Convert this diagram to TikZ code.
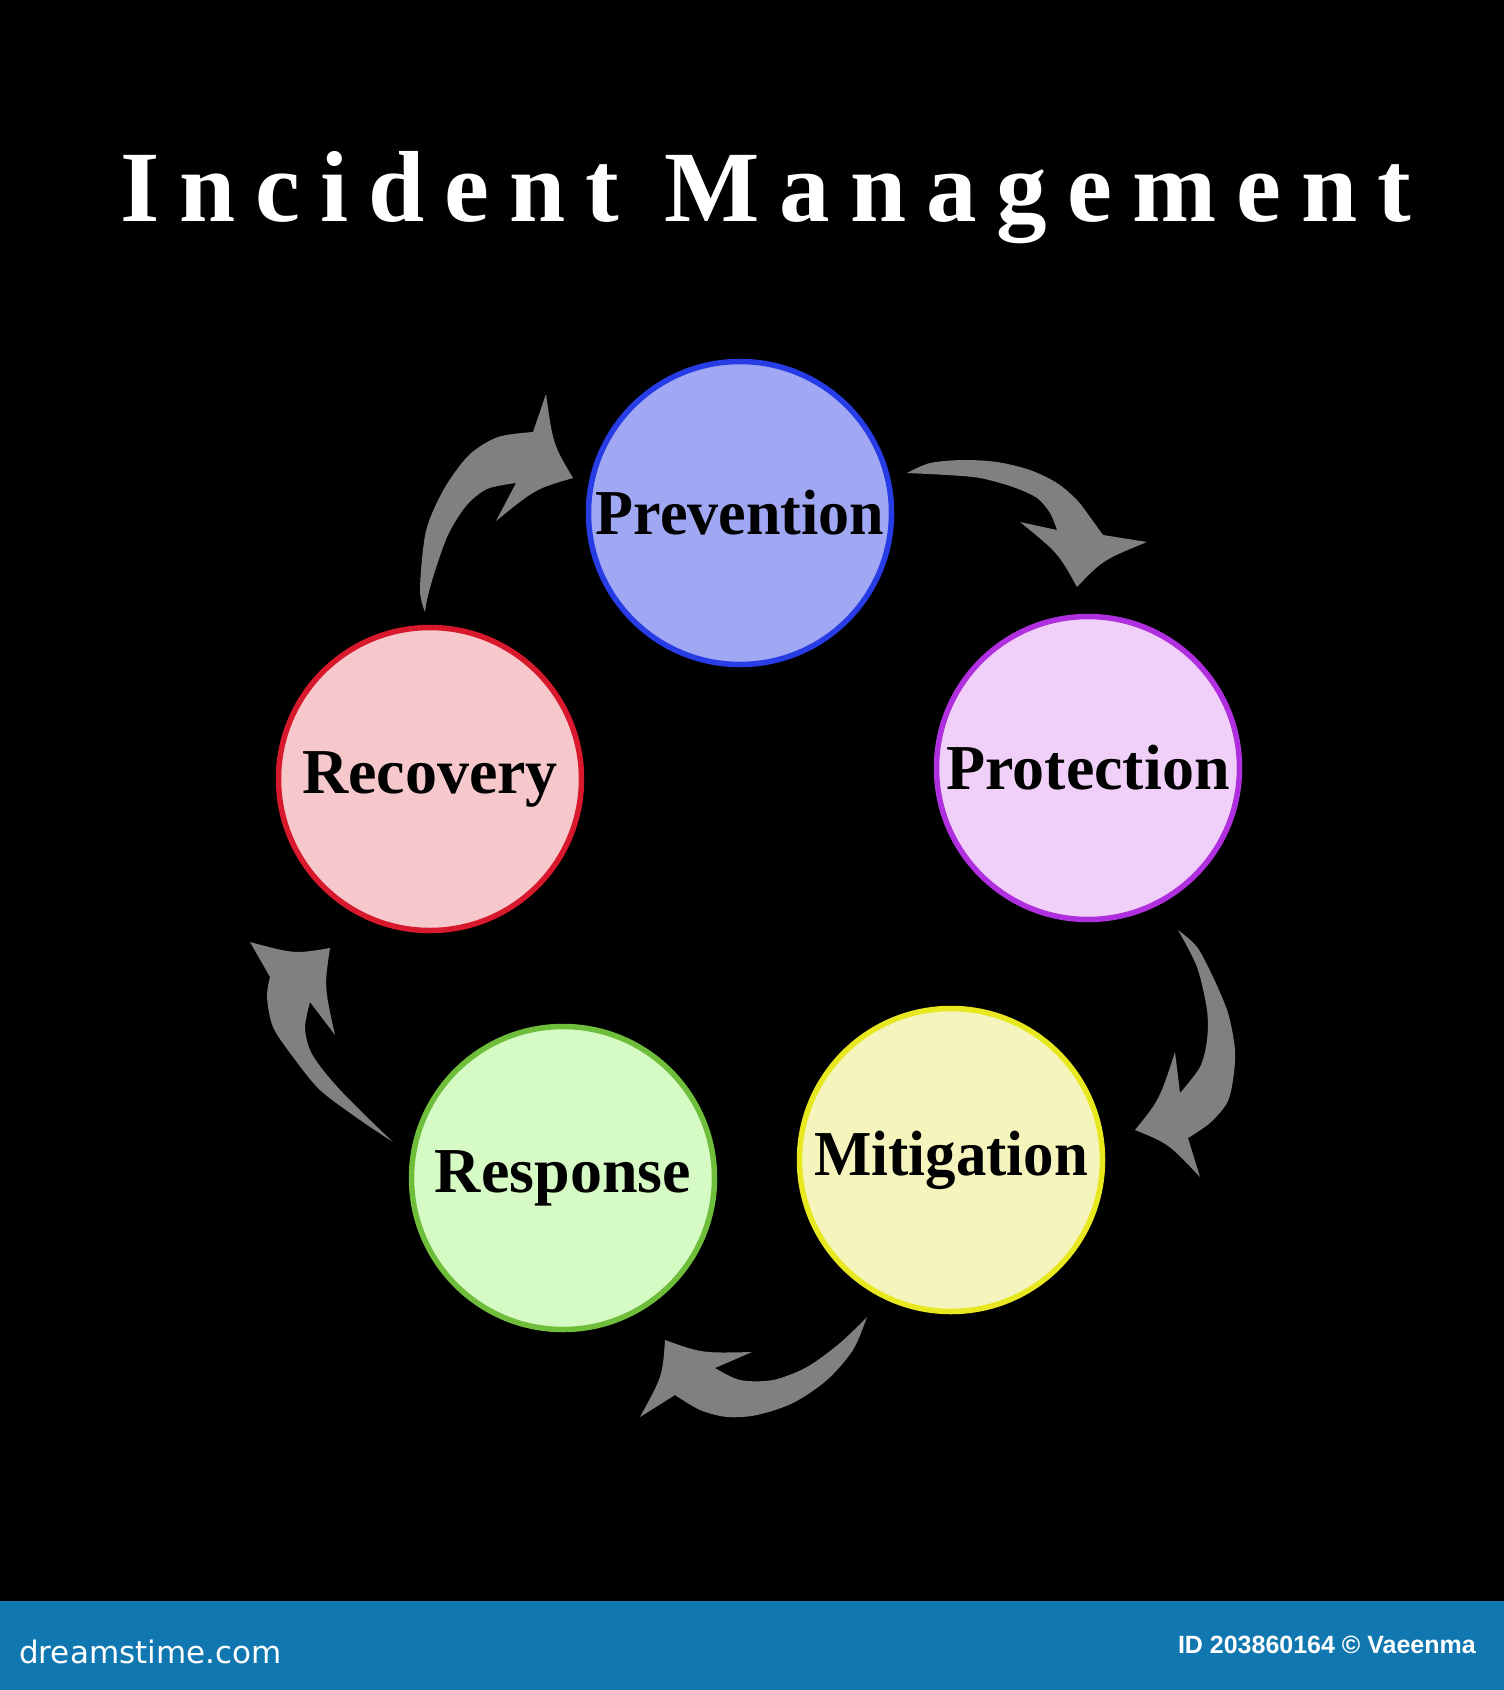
\documentclass[tikz,border=0pt]{standalone}
\usepackage{graphicx}
\usepackage{fontspec}
\setmainfont{Liberation Serif}
\newfontfamily\barfont{Liberation Sans}
\newfontfamily\logofont{DejaVu Sans}
\usetikzlibrary{calc}
\definecolor{prevF}{HTML}{A0A8F4}
\definecolor{prevB}{HTML}{283CE6}
\definecolor{protF}{HTML}{F0D0F8}
\definecolor{protB}{HTML}{B030E0}
\definecolor{recF}{HTML}{F6C8CC}
\definecolor{recB}{HTML}{D8182C}
\definecolor{respF}{HTML}{D6FAC4}
\definecolor{respB}{HTML}{6EBE3C}
\definecolor{mitF}{HTML}{F4F4BC}
\definecolor{mitB}{HTML}{E8E820}
\definecolor{arrowgray}{HTML}{808080}
\definecolor{barblue}{HTML}{1077B0}
% #1 outer edge, #2 barb 1, #3 tip, #4 barb 2, #5 inner corner, #6 inner edge, #7 head centre
\newcommand{\garrow}[7]{%
  \fill[arrowgray] plot[smooth] coordinates {#1} -- #2
    .. controls ($#2!0.5!#3!0.3!#7$) .. #3
    .. controls ($#3!0.5!#4!0.3!#7$) .. #4
    -- plot[smooth] coordinates {#5 #6} -- cycle;}
\begin{document}
\begin{tikzpicture}[x=1pt,y=-1pt,
  stage/.style={circle, minimum size=303pt, line width=5.5pt, inner sep=0pt,
    font=\fontsize{64}{70}\selectfont\bfseries, text=black}]
\useasboundingbox (0,0) rectangle (1504,1690);
\fill[black] (0,0) rectangle (1504,1601);
\fill[barblue] (0,1601) rectangle (1504,1690);

\node[anchor=base west, text=white, inner sep=0pt] (title) at (120,221)
  {\fontsize{101}{120}\selectfont\bfseries\addfontfeature{LetterSpace=19.8}Incident Management};

\node[stage, draw=prevB, fill=prevF] (prev) at (740,513) {\scalebox{0.97}[1]{Prevention}};
\node[stage, draw=protB, fill=protF] (prot) at (1088,768) {Protection};
\node[stage, draw=mitB, fill=mitF] (mit) at (951,1160) {\scalebox{0.95}[1]{Mitigation}};
\node[stage, draw=respB, fill=respF] (resp) at (563,1178) {Response};
\node[stage, draw=recB, fill=recF] (rec) at (430,779) {Recovery};

% Recovery -> Prevention
\garrow{(425,612) (420,589) (426,531) (444,489) (469,455) (498,437) (533,432)}
  {(546,394)}{(573,478)}{(496,521)}{(516,483)}
  {(487,489) (466,506) (448,535) (434,574) (427,600) (425,612)}{(538,464)}
% Prevention -> Protection
\garrow{(907,473) (930,463) (963,460) (997,462) (1030,470) (1057,483) (1077,500) (1090,517) (1103,535)}
  {(1147,542)}{(1077,587)}{(1020,522)}{(1057,530)}
  {(1050,513) (1037,498) (1013,487) (980,478) (947,475) (907,473)}{(1081,550)}
% Protection -> Mitigation
\garrow{(1178,930) (1197,947) (1213,977) (1228,1013) (1235,1050) (1233,1080) (1227,1103) (1210,1123) (1188,1138)}
  {(1200,1177)}{(1135,1130)}{(1175,1052)}{(1180,1093)}
  {(1200,1067) (1207,1040) (1207,1010) (1197,967) (1178,930)}{(1170,1120)}
% Mitigation -> Response
\garrow{(867,1317) (853,1350) (827,1380) (793,1403) (757,1415) (727,1417) (700,1410) (675,1395)}
  {(640,1417)}{(665,1340)}{(752,1352)}{(715,1368)}
  {(740,1380) (773,1380) (807,1367) (840,1343) (867,1317)}{(686,1370)}
% Response -> Recovery
\garrow{(393,1142) (360,1120) (320,1090) (293,1057) (273,1027) (267,997) (270,977)}
  {(250,942)}{(330,948)}{(335,1035)}{(310,1002)}
  {(305,1027) (310,1050) (323,1070) (343,1093) (370,1120) (393,1142)}{(305,975)}

\node[anchor=base west, text=white, inner sep=0pt] (logo) at (19,1663)
  {\logofont\fontsize{31}{31}\selectfont dreamstime.com};
\node[anchor=base east, text=white, inner sep=0pt] (credit) at (1476,1653)
  {\barfont\bfseries\fontsize{25}{25}\selectfont ID 203860164 © Vaeenma};
\end{tikzpicture}
\end{document}
